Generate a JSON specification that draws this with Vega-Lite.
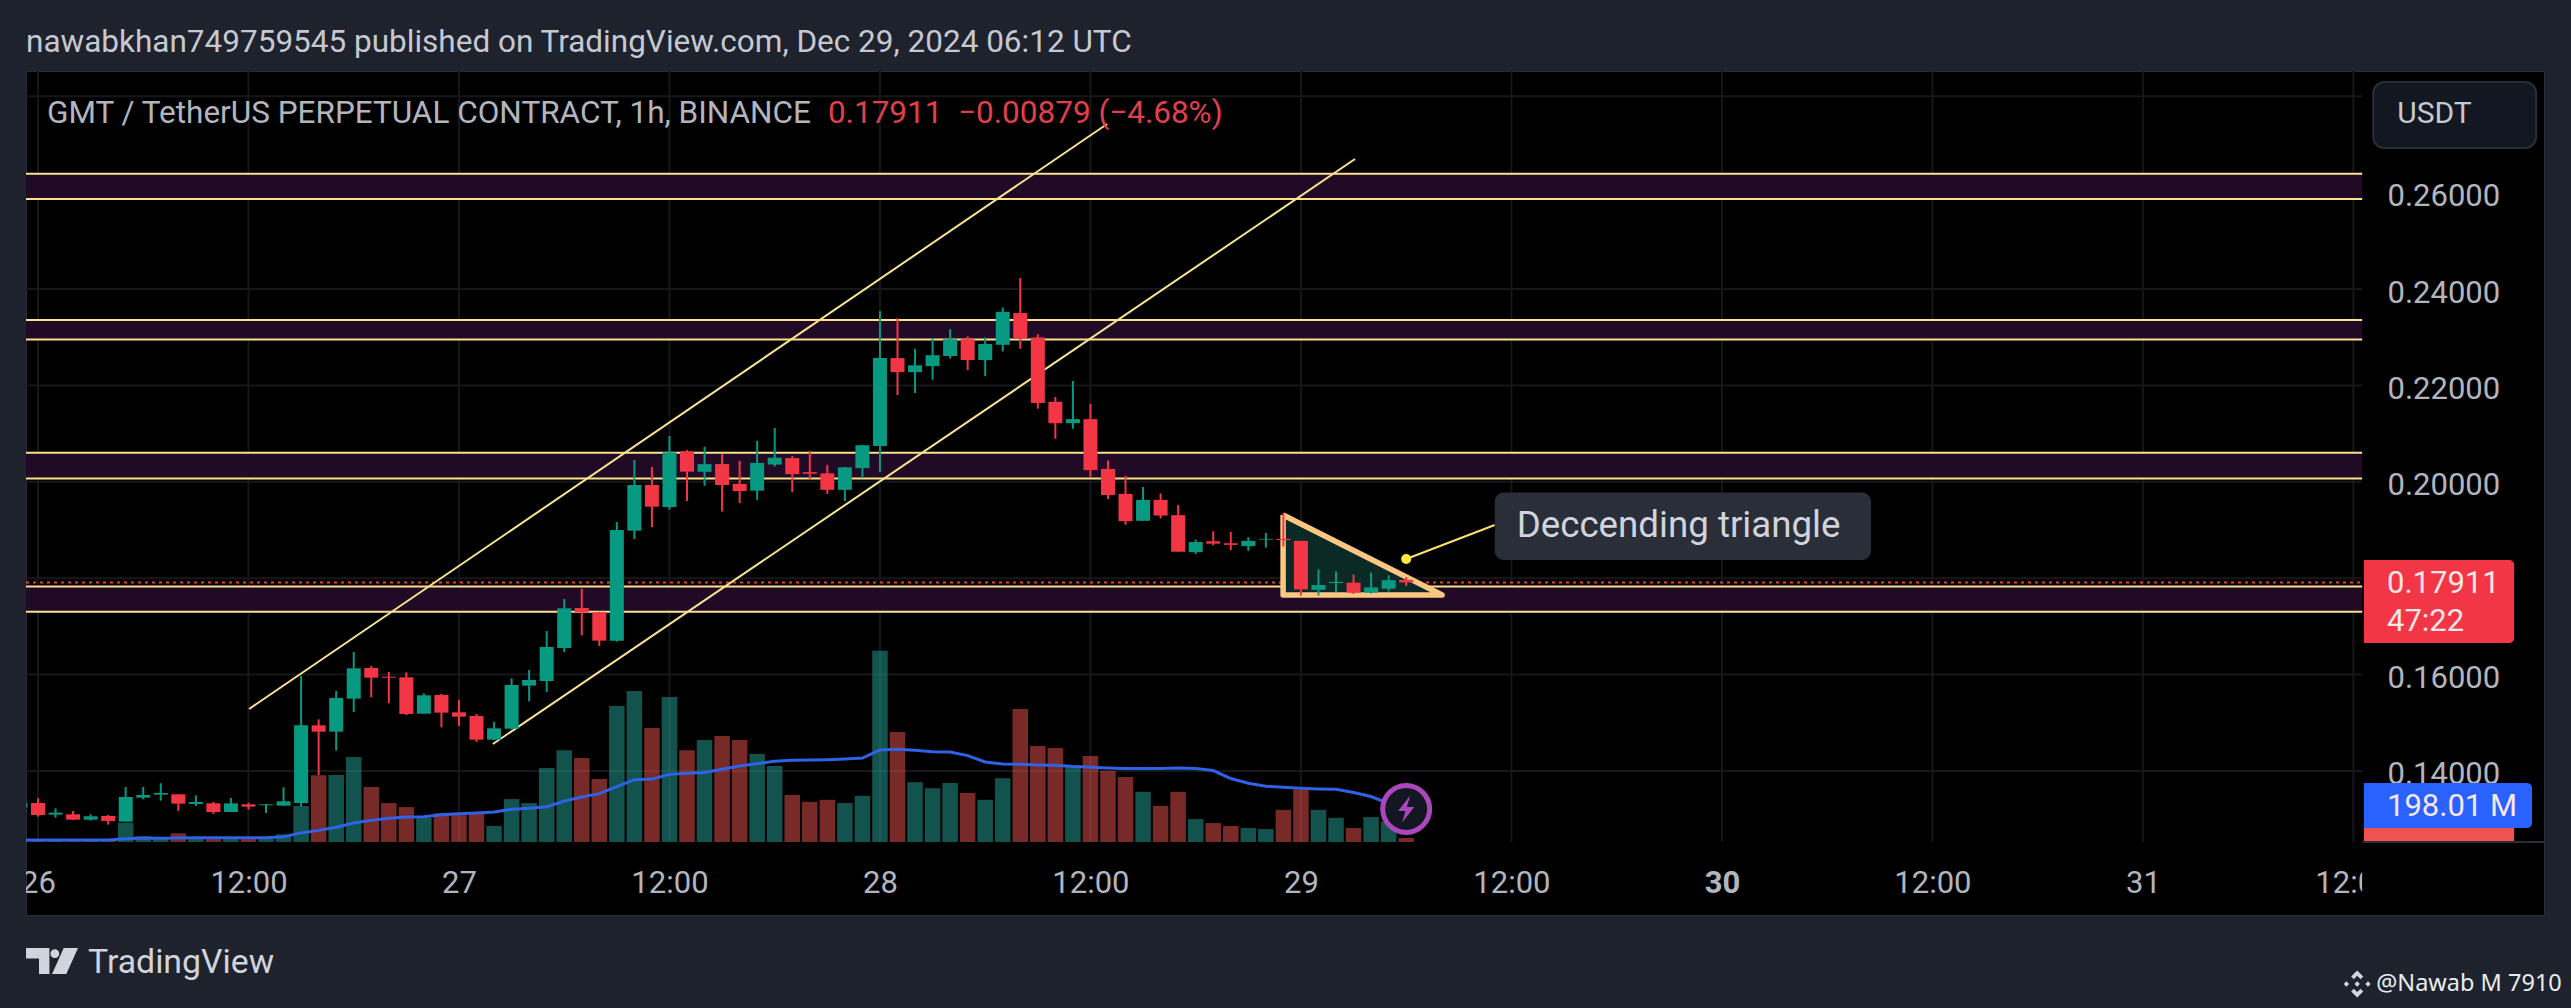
{
  "$schema": "https://vega.github.io/schema/vega-lite/v6.json",
  "description": "GMT / TetherUS perpetual contract, 1h candles with volume",
  "width": 2518,
  "height": 844,
  "autosize": {"type": "none"},
  "padding": {"left": 26, "top": 71, "right": 27, "bottom": 93},
  "background": "#1e222d",
  "view": {"fill": "#000000", "stroke": "#2a2e39"},
  "config": {"font": "Roboto"},
  "title": {
    "text": "nawabkhan749759545 published on TradingView.com, Dec 29, 2024 06:12 UTC",
    "anchor": "start",
    "frame": "group",
    "font": "Roboto",
    "fontSize": 31.5,
    "fontWeight": "normal",
    "color": "#c5c8d1",
    "offset": 12
  },
  "datasets": {
    "candles": [
      {"t":"2024-12-25T23:00Z","o":0.13246,"h":0.13343,"l":0.13219,"c":0.13329,"vol":15,"ma":11},
      {"t":"2024-12-26T00:00Z","o":0.13336,"h":0.13433,"l":0.13053,"c":0.13087,"vol":15,"ma":11},
      {"t":"2024-12-26T01:00Z","o":0.13094,"h":0.13225,"l":0.13032,"c":0.13136,"vol":13,"ma":11},
      {"t":"2024-12-26T02:00Z","o":0.13101,"h":0.1317,"l":0.12983,"c":0.1299,"vol":13,"ma":11},
      {"t":"2024-12-26T03:00Z","o":0.1299,"h":0.13101,"l":0.1297,"c":0.1306,"vol":13,"ma":11},
      {"t":"2024-12-26T04:00Z","o":0.13066,"h":0.13087,"l":0.12887,"c":0.12963,"vol":16,"ma":11},
      {"t":"2024-12-26T05:00Z","o":0.12949,"h":0.13668,"l":0.12949,"c":0.13461,"vol":106,"ma":18},
      {"t":"2024-12-26T06:00Z","o":0.13447,"h":0.13668,"l":0.13412,"c":0.13502,"vol":31,"ma":22},
      {"t":"2024-12-26T07:00Z","o":0.13509,"h":0.13744,"l":0.13385,"c":0.13544,"vol":18,"ma":20},
      {"t":"2024-12-26T08:00Z","o":0.13516,"h":0.13516,"l":0.1317,"c":0.13322,"vol":48,"ma":22},
      {"t":"2024-12-26T09:00Z","o":0.13315,"h":0.13495,"l":0.13274,"c":0.13357,"vol":20,"ma":24},
      {"t":"2024-12-26T10:00Z","o":0.13329,"h":0.13357,"l":0.13108,"c":0.13149,"vol":16,"ma":24},
      {"t":"2024-12-26T11:00Z","o":0.13149,"h":0.1344,"l":0.13149,"c":0.13329,"vol":20,"ma":24},
      {"t":"2024-12-26T12:00Z","o":0.13308,"h":0.13343,"l":0.13198,"c":0.1326,"vol":16,"ma":24},
      {"t":"2024-12-26T13:00Z","o":0.13288,"h":0.13315,"l":0.13129,"c":0.13308,"vol":20,"ma":24},
      {"t":"2024-12-26T14:00Z","o":0.13281,"h":0.13661,"l":0.13274,"c":0.13371,"vol":42,"ma":29},
      {"t":"2024-12-26T15:00Z","o":0.13336,"h":0.15971,"l":0.13267,"c":0.14947,"vol":198,"ma":50},
      {"t":"2024-12-26T16:00Z","o":0.14947,"h":0.15072,"l":0.13917,"c":0.14816,"vol":367,"ma":64},
      {"t":"2024-12-26T17:00Z","o":0.14816,"h":0.1566,"l":0.14422,"c":0.15515,"vol":368,"ma":81},
      {"t":"2024-12-26T18:00Z","o":0.15501,"h":0.16469,"l":0.15224,"c":0.1613,"vol":467,"ma":104},
      {"t":"2024-12-26T19:00Z","o":0.16137,"h":0.16178,"l":0.15528,"c":0.15936,"vol":302,"ma":119},
      {"t":"2024-12-26T20:00Z","o":0.15957,"h":0.16054,"l":0.15404,"c":0.15936,"vol":214,"ma":130},
      {"t":"2024-12-26T21:00Z","o":0.15943,"h":0.16047,"l":0.15162,"c":0.15183,"vol":192,"ma":137},
      {"t":"2024-12-26T22:00Z","o":0.15189,"h":0.15611,"l":0.15189,"c":0.1557,"vol":132,"ma":139},
      {"t":"2024-12-26T23:00Z","o":0.15577,"h":0.15598,"l":0.14906,"c":0.1521,"vol":158,"ma":150},
      {"t":"2024-12-27T00:00Z","o":0.15217,"h":0.15473,"l":0.14934,"c":0.15127,"vol":148,"ma":156},
      {"t":"2024-12-27T01:00Z","o":0.15141,"h":0.15183,"l":0.14602,"c":0.1465,"vol":160,"ma":160},
      {"t":"2024-12-27T02:00Z","o":0.1465,"h":0.15017,"l":0.14643,"c":0.14885,"vol":88,"ma":165},
      {"t":"2024-12-27T03:00Z","o":0.14878,"h":0.15923,"l":0.14864,"c":0.15784,"vol":236,"ma":180},
      {"t":"2024-12-27T04:00Z","o":0.1577,"h":0.16095,"l":0.15445,"c":0.15888,"vol":214,"ma":185},
      {"t":"2024-12-27T05:00Z","o":0.15867,"h":0.16905,"l":0.15639,"c":0.16573,"vol":407,"ma":194},
      {"t":"2024-12-27T06:00Z","o":0.16552,"h":0.17568,"l":0.16469,"c":0.17375,"vol":504,"ma":225},
      {"t":"2024-12-27T07:00Z","o":0.17382,"h":0.17783,"l":0.16815,"c":0.17292,"vol":462,"ma":247},
      {"t":"2024-12-27T08:00Z","o":0.17292,"h":0.17306,"l":0.16593,"c":0.16704,"vol":346,"ma":266},
      {"t":"2024-12-27T09:00Z","o":0.16704,"h":0.19166,"l":0.16683,"c":0.19,"vol":748,"ma":304},
      {"t":"2024-12-27T10:00Z","o":0.18986,"h":0.20452,"l":0.18813,"c":0.19934,"vol":830,"ma":343},
      {"t":"2024-12-27T11:00Z","o":0.19934,"h":0.20307,"l":0.19062,"c":0.19484,"vol":627,"ma":346},
      {"t":"2024-12-27T12:00Z","o":0.19477,"h":0.2095,"l":0.19422,"c":0.20611,"vol":797,"ma":372},
      {"t":"2024-12-27T13:00Z","o":0.20632,"h":0.2066,"l":0.19602,"c":0.2021,"vol":504,"ma":378},
      {"t":"2024-12-27T14:00Z","o":0.20208,"h":0.20725,"l":0.19917,"c":0.20367,"vol":561,"ma":382},
      {"t":"2024-12-27T15:00Z","o":0.20367,"h":0.20575,"l":0.19383,"c":0.19933,"vol":583,"ma":400},
      {"t":"2024-12-27T16:00Z","o":0.19958,"h":0.20433,"l":0.19558,"c":0.19808,"vol":561,"ma":418},
      {"t":"2024-12-27T17:00Z","o":0.19816,"h":0.2085,"l":0.19625,"c":0.20392,"vol":484,"ma":431},
      {"t":"2024-12-27T18:00Z","o":0.20358,"h":0.21117,"l":0.20317,"c":0.205,"vol":418,"ma":444},
      {"t":"2024-12-27T19:00Z","o":0.20492,"h":0.20533,"l":0.19783,"c":0.20158,"vol":259,"ma":449},
      {"t":"2024-12-27T20:00Z","o":0.202,"h":0.20642,"l":0.20058,"c":0.20166,"vol":221,"ma":451},
      {"t":"2024-12-27T21:00Z","o":0.20175,"h":0.2035,"l":0.1975,"c":0.19833,"vol":232,"ma":453},
      {"t":"2024-12-27T22:00Z","o":0.19833,"h":0.20308,"l":0.196,"c":0.203,"vol":214,"ma":457},
      {"t":"2024-12-27T23:00Z","o":0.20283,"h":0.20767,"l":0.20075,"c":0.20759,"vol":254,"ma":462},
      {"t":"2024-12-28T00:00Z","o":0.20742,"h":0.23542,"l":0.202,"c":0.22567,"vol":1052,"ma":506},
      {"t":"2024-12-28T01:00Z","o":0.22567,"h":0.23392,"l":0.218,"c":0.22275,"vol":605,"ma":510},
      {"t":"2024-12-28T02:00Z","o":0.22275,"h":0.22759,"l":0.21842,"c":0.22417,"vol":329,"ma":504},
      {"t":"2024-12-28T03:00Z","o":0.224,"h":0.22984,"l":0.22117,"c":0.22626,"vol":296,"ma":497},
      {"t":"2024-12-28T04:00Z","o":0.22609,"h":0.23167,"l":0.22559,"c":0.22959,"vol":325,"ma":495},
      {"t":"2024-12-28T05:00Z","o":0.22959,"h":0.23017,"l":0.22317,"c":0.22525,"vol":270,"ma":475},
      {"t":"2024-12-28T06:00Z","o":0.22525,"h":0.22992,"l":0.22192,"c":0.22859,"vol":232,"ma":440},
      {"t":"2024-12-28T07:00Z","o":0.22842,"h":0.23617,"l":0.22701,"c":0.23526,"vol":351,"ma":429},
      {"t":"2024-12-28T08:00Z","o":0.23501,"h":0.24226,"l":0.22759,"c":0.22976,"vol":731,"ma":427},
      {"t":"2024-12-28T09:00Z","o":0.22992,"h":0.23059,"l":0.21517,"c":0.21634,"vol":528,"ma":424},
      {"t":"2024-12-28T10:00Z","o":0.21659,"h":0.21759,"l":0.20892,"c":0.21217,"vol":517,"ma":422},
      {"t":"2024-12-28T11:00Z","o":0.21217,"h":0.22092,"l":0.211,"c":0.213,"vol":422,"ma":415},
      {"t":"2024-12-28T12:00Z","o":0.213,"h":0.21617,"l":0.20092,"c":0.20242,"vol":473,"ma":411},
      {"t":"2024-12-28T13:00Z","o":0.20267,"h":0.20442,"l":0.19641,"c":0.19725,"vol":391,"ma":407},
      {"t":"2024-12-28T14:00Z","o":0.1975,"h":0.20125,"l":0.19108,"c":0.19183,"vol":358,"ma":404},
      {"t":"2024-12-28T15:00Z","o":0.19191,"h":0.19892,"l":0.19191,"c":0.19625,"vol":276,"ma":404},
      {"t":"2024-12-28T16:00Z","o":0.19625,"h":0.19758,"l":0.19241,"c":0.193,"vol":199,"ma":404},
      {"t":"2024-12-28T17:00Z","o":0.19308,"h":0.19516,"l":0.18549,"c":0.18549,"vol":276,"ma":407},
      {"t":"2024-12-28T18:00Z","o":0.18541,"h":0.188,"l":0.185,"c":0.1875,"vol":126,"ma":404},
      {"t":"2024-12-28T19:00Z","o":0.18766,"h":0.18975,"l":0.18683,"c":0.18716,"vol":104,"ma":393},
      {"t":"2024-12-28T20:00Z","o":0.18725,"h":0.18958,"l":0.18583,"c":0.18691,"vol":88,"ma":349},
      {"t":"2024-12-28T21:00Z","o":0.18666,"h":0.1885,"l":0.18566,"c":0.18775,"vol":77,"ma":323},
      {"t":"2024-12-28T22:00Z","o":0.188,"h":0.18941,"l":0.18633,"c":0.18816,"vol":71,"ma":307},
      {"t":"2024-12-28T23:00Z","o":0.18816,"h":0.1935,"l":0.18658,"c":0.18791,"vol":177,"ma":301},
      {"t":"2024-12-29T00:00Z","o":0.18775,"h":0.18775,"l":0.17641,"c":0.17766,"vol":290,"ma":296},
      {"t":"2024-12-29T01:00Z","o":0.17758,"h":0.18183,"l":0.17641,"c":0.17858,"vol":177,"ma":292},
      {"t":"2024-12-29T02:00Z","o":0.17899,"h":0.18141,"l":0.17708,"c":0.17924,"vol":133,"ma":290},
      {"t":"2024-12-29T03:00Z","o":0.17908,"h":0.18074,"l":0.17674,"c":0.17699,"vol":77,"ma":272},
      {"t":"2024-12-29T04:00Z","o":0.17699,"h":0.18116,"l":0.17683,"c":0.17808,"vol":137,"ma":250},
      {"t":"2024-12-29T05:00Z","o":0.17783,"h":0.18058,"l":0.17724,"c":0.17958,"vol":113,"ma":212},
      {"t":"2024-12-29T06:00Z","o":0.17966,"h":0.18025,"l":0.17838,"c":0.17911,"vol":22,"ma":198.01}
    ],
    "hgrid": [
      {"t":"2024-12-25T23:19Z","t2":"2024-12-31T12:30Z","p":0.14},
      {"t":"2024-12-25T23:19Z","t2":"2024-12-31T12:30Z","p":0.16},
      {"t":"2024-12-25T23:19Z","t2":"2024-12-31T12:30Z","p":0.18},
      {"t":"2024-12-25T23:19Z","t2":"2024-12-31T12:30Z","p":0.2},
      {"t":"2024-12-25T23:19Z","t2":"2024-12-31T12:30Z","p":0.22},
      {"t":"2024-12-25T23:19Z","t2":"2024-12-31T12:30Z","p":0.24},
      {"t":"2024-12-25T23:19Z","t2":"2024-12-31T12:30Z","p":0.26},
      {"t":"2024-12-25T23:19Z","t2":"2024-12-31T12:30Z","p":0.28}
    ],
    "vgrid": [
      {"t":"2024-12-26T00:00Z","p":0.28523,"p2":0.12527},
      {"t":"2024-12-26T12:00Z","p":0.28523,"p2":0.12527},
      {"t":"2024-12-27T00:00Z","p":0.28523,"p2":0.12527},
      {"t":"2024-12-27T12:00Z","p":0.28523,"p2":0.12527},
      {"t":"2024-12-28T00:00Z","p":0.28523,"p2":0.12527},
      {"t":"2024-12-28T12:00Z","p":0.28523,"p2":0.12527},
      {"t":"2024-12-29T00:00Z","p":0.28523,"p2":0.12527},
      {"t":"2024-12-29T12:00Z","p":0.28523,"p2":0.12527},
      {"t":"2024-12-30T00:00Z","p":0.28523,"p2":0.12527},
      {"t":"2024-12-30T12:00Z","p":0.28523,"p2":0.12527},
      {"t":"2024-12-31T00:00Z","p":0.28523,"p2":0.12527},
      {"t":"2024-12-31T12:00Z","p":0.28523,"p2":0.12527}
    ],
    "zones": [
      {"t":"2024-12-25T23:19Z","t2":"2024-12-31T12:30Z","p":0.26392,"p2":0.25867},
      {"t":"2024-12-25T23:19Z","t2":"2024-12-31T12:30Z","p":0.23357,"p2":0.2295},
      {"t":"2024-12-25T23:19Z","t2":"2024-12-31T12:30Z","p":0.20602,"p2":0.20066},
      {"t":"2024-12-25T23:19Z","t2":"2024-12-31T12:30Z","p":0.17828,"p2":0.17303}
    ],
    "channels": [
      {"t":"2024-12-26T12:02Z","t2":"2024-12-28T12:57Z","p":0.15286,"p2":0.27423},
      {"t":"2024-12-27T01:56Z","t2":"2024-12-29T03:05Z","p":0.1456,"p2":0.26697}
    ]
  },
  "encoding": {
    "x": {
      "field": "t",
      "type": "temporal",
      "title": null,
      "scale": {"type": "utc", "domain": ["2024-12-25T23:19Z", "2024-12-31T22:52Z"], "nice": false, "padding": 0},
      "axis": {
        "orient": "bottom",
        "offset": -73,
        "grid": false,
        "ticks": false,
        "domain": false,
        "values": ["2024-12-26T00:00Z","2024-12-26T12:00Z","2024-12-27T00:00Z","2024-12-27T12:00Z","2024-12-28T00:00Z","2024-12-28T12:00Z","2024-12-29T00:00Z","2024-12-29T12:00Z","2024-12-30T00:00Z","2024-12-30T12:00Z","2024-12-31T00:00Z","2024-12-31T12:00Z"],
        "labelExpr": "utchours(datum.value) == 12 ? '12:00' : utcFormat(datum.value, '%-d')",
        "labelFontWeight": {"condition": {"test": "utcdate(datum.value) == 30 && utchours(datum.value) == 0", "value": "bold"}, "value": "normal"},
        "labelFont": "Roboto",
        "labelFontSize": 31,
        "labelColor": "#b2b5be",
        "labelPadding": 41,
        "labelBaseline": "middle",
        "labelOverlap": false,
        "labelFlush": false,
        "labelBound": false
      }
    }
  },
  "resolve": {"scale": {"y": "independent"}, "axis": {"y": "independent"}},
  "layer": [
    {
      "encoding": {
        "y": {"field": "p", "type": "quantitative", "axis": null, "scale": {"domain": [0.11012, 0.28523], "nice": false, "zero": false}}
      },
      "layer": [
        {
          "data": {"name": "hgrid"},
          "mark": {"type": "rule", "stroke": "#15171b", "strokeWidth": 2},
          "encoding": {"x2": {"field": "t2"}}
        },
        {
          "data": {"name": "vgrid"},
          "mark": {"type": "rule", "stroke": "#15171b", "strokeWidth": 2},
          "encoding": {"y2": {"field": "p2"}}
        }
      ]
    },
    {
      "data": {"name": "candles"},
      "encoding": {
        "y": {"field": "vol", "type": "quantitative", "axis": null, "scale": {"domain": [-401.5, 4240.5], "nice": false, "zero": false}}
      },
      "layer": [
        {
          "mark": {"type": "bar", "size": 15.5, "clip": true, "opacity": 0.5},
          "encoding": {
            "y2": {"datum": 0},
            "fill": {"condition": {"test": "datum.c < datum.o", "value": "#ef5350"}, "value": "#26a69a"}
          }
        },
        {
          "mark": {"type": "line", "stroke": "#2f62e6", "strokeWidth": 3, "clip": true},
          "encoding": {"y": {"field": "ma", "type": "quantitative", "axis": null}}
        }
      ]
    },
    {
      "encoding": {
        "y": {
          "field": "p",
          "type": "quantitative",
          "title": null,
          "scale": {"domain": [0.11012, 0.28523], "nice": false, "zero": false},
          "axis": {
            "orient": "right",
            "offset": -182,
            "grid": false,
            "ticks": false,
            "domain": false,
            "values": [0.14, 0.16, 0.2, 0.22, 0.24, 0.26],
            "format": ".5f",
            "labelFont": "Roboto",
            "labelFontSize": 31,
            "labelColor": "#b2b5be",
            "labelPadding": 25,
            "labelOffset": 4,
            "labelOverlap": false,
            "labelBound": false,
            "labelFlush": false
          }
        }
      },
      "layer": [
        {
          "data": {"name": "zones"},
          "mark": {"type": "rect", "fill": "#210a25"},
          "encoding": {"x2": {"field": "t2"}, "y2": {"field": "p2"}}
        },
        {
          "data": {"name": "zones"},
          "mark": {"type": "rule", "stroke": "#fbe08e", "strokeWidth": 2},
          "encoding": {"x2": {"field": "t2"}}
        },
        {
          "data": {"name": "zones"},
          "mark": {"type": "rule", "stroke": "#fbe08e", "strokeWidth": 2},
          "encoding": {"x2": {"field": "t2"}, "y": {"field": "p2", "type": "quantitative", "title": null}}
        },
        {
          "data": {"values": [{"t":"2024-12-25T23:19Z","t2":"2024-12-31T12:30Z","p":0.17911}]},
          "mark": {"type": "rule", "stroke": "#f23645", "strokeWidth": 2, "strokeDash": [3, 4]},
          "encoding": {"x2": {"field": "t2"}}
        },
        {
          "data": {"name": "channels"},
          "mark": {"type": "rule", "stroke": "#f7e392", "strokeWidth": 2},
          "encoding": {"x2": {"field": "t2"}, "y2": {"field": "p2"}}
        },
        {
          "data": {"values": [
            {"t":"2024-12-28T22:59Z","p":0.19311,"p2":0.17651},
            {"t":"2024-12-29T08:03Z","p":0.17651,"p2":0.17651}
          ]},
          "mark": {"type": "area", "fill": "#0b2a25"},
          "encoding": {"y2": {"field": "p2"}}
        },
        {
          "data": {"values": [
            {"t":"2024-12-28T22:59Z","p":0.19311,"i":0},
            {"t":"2024-12-28T22:59Z","p":0.17651,"i":1},
            {"t":"2024-12-29T08:03Z","p":0.17651,"i":2},
            {"t":"2024-12-28T22:59Z","p":0.19311,"i":3}
          ]},
          "mark": {"type": "line", "stroke": "#fcc782", "strokeWidth": 5.5, "strokeJoin": "round"},
          "encoding": {"order": {"field": "i", "type": "ordinal"}}
        },
        {
          "data": {"name": "candles"},
          "mark": {"type": "rule", "strokeWidth": 2, "clip": true},
          "encoding": {
            "y": {"field": "h", "type": "quantitative", "title": null},
            "y2": {"field": "l"},
            "stroke": {"condition": {"test": "datum.c < datum.o", "value": "#f23645"}, "value": "#089981"}
          }
        },
        {
          "data": {"name": "candles"},
          "mark": {"type": "bar", "size": 14, "clip": true},
          "encoding": {
            "y": {"field": "o", "type": "quantitative", "title": null},
            "y2": {"field": "c"},
            "fill": {"condition": {"test": "datum.c < datum.o", "value": "#f23645"}, "value": "#089981"}
          }
        },
        {
          "data": {"values": [{"t":"2024-12-29T06:00Z","t2":"2024-12-29T11:03Z","p":0.18398,"p2":0.19104}]},
          "mark": {"type": "rule", "stroke": "#f7e26b", "strokeWidth": 2},
          "encoding": {"x2": {"field": "t2"}, "y2": {"field": "p2"}}
        },
        {
          "data": {"values": [{"t":"2024-12-29T06:00Z","p":0.18398}]},
          "mark": {"type": "point", "shape": "circle", "filled": true, "fill": "#ffeb3b", "opacity": 1, "size": 100},
          "encoding": {}
        },
        {
          "data": {"values": [{"t":"2024-12-29T11:03Z","t2":"2024-12-30T08:30Z","p":0.19779,"p2":0.18375}]},
          "mark": {"type": "rect", "fill": "#2a2e39", "cornerRadius": 9},
          "encoding": {"x2": {"field": "t2"}, "y2": {"field": "p2"}}
        },
        {
          "data": {"values": [{"t":"2024-12-29T12:18Z","p":0.19074,"label":"Deccending triangle"}]},
          "mark": {"type": "text", "align": "left", "baseline": "middle", "font": "Roboto", "fontSize": 36.7, "fill": "#d1d4dc"},
          "encoding": {"text": {"field": "label"}}
        },
        {
          "data": {"values": [{"t":"2024-12-29T06:00Z","p":0.13212}]},
          "mark": {"type": "point", "shape": "circle", "filled": true, "fill": "#131722", "stroke": "#ab47bc", "strokeWidth": 5, "opacity": 1, "size": 2200},
          "encoding": {}
        },
        {
          "data": {"values": [{"t":"2024-12-29T06:00Z","p":0.13212}]},
          "mark": {"type": "point", "shape": "M0.3 -1 L-0.6 0.15 L-0.05 0.15 L-0.3 1 L0.6 -0.15 L0.05 -0.15 Z", "filled": true, "fill": "#ab47bc", "opacity": 1, "size": 729},
          "encoding": {}
        },
        {
          "data": {"values": [{"t":"2024-12-31T12:36Z","t2":"2024-12-31T21:10Z","p":0.18378,"p2":0.16656}]},
          "mark": {"type": "rect", "fill": "#f23645", "cornerRadiusTopRight": 5, "cornerRadiusBottomRight": 5},
          "encoding": {"x2": {"field": "t2"}, "y2": {"field": "p2"}}
        },
        {
          "data": {"values": [{"t":"2024-12-31T12:36Z","t2":"2024-12-31T21:10Z","p":0.12817,"p2":0.12527}]},
          "mark": {"type": "rect", "fill": "#ef5350"},
          "encoding": {"x2": {"field": "t2"}, "y2": {"field": "p2"}}
        },
        {
          "data": {"values": [{"t":"2024-12-31T12:36Z","t2":"2024-12-31T22:11Z","p":0.13751,"p2":0.12817}]},
          "mark": {"type": "rect", "fill": "#2962ff", "cornerRadiusTopRight": 5, "cornerRadiusBottomRight": 5},
          "encoding": {"x2": {"field": "t2"}, "y2": {"field": "p2"}}
        },
        {
          "data": {"values": [{"t":"2024-12-31T12:30Z","t2":"2024-12-31T22:52Z","p":0.12506,"p2":0.11012}]},
          "mark": {"type": "rect", "fill": "#000000"},
          "encoding": {"x2": {"field": "t2"}, "y2": {"field": "p2"}}
        },
        {
          "data": {"values": [{"t":"2024-12-25T21:50Z","t2":"2024-12-25T23:19Z","p":0.12506,"p2":0.11012}]},
          "mark": {"type": "rect", "fill": "#1e222d"},
          "encoding": {"x2": {"field": "t2"}, "y2": {"field": "p2"}}
        },
        {
          "data": {"values": [{"t":"2024-12-31T12:30Z","t2":"2024-12-31T22:52Z","p":0.12527}]},
          "mark": {"type": "rule", "stroke": "#2a2e39", "strokeWidth": 2},
          "encoding": {"x2": {"field": "t2"}}
        },
        {
          "data": {"values": [
            {"t":"2024-12-31T13:55Z","p":0.1788,"label":"0.17911"},
            {"t":"2024-12-31T13:55Z","p":0.17098,"label":"47:22"},
            {"t":"2024-12-31T13:55Z","p":0.13259,"label":"198.01 M"}
          ]},
          "mark": {"type": "text", "align": "left", "baseline": "middle", "font": "Roboto", "fontSize": 31, "fill": "#f5e6e8"},
          "encoding": {"text": {"field": "label"}}
        },
        {
          "data": {"values": [{"t":"2024-12-31T13:08Z","t2":"2024-12-31T22:25Z","p":0.28295,"p2":0.26925}]},
          "mark": {"type": "rect", "fill": "#131722", "stroke": "#2a2e39", "strokeWidth": 2, "cornerRadius": 11},
          "encoding": {"x2": {"field": "t2"}, "y2": {"field": "p2"}}
        },
        {
          "data": {"values": [{"t":"2024-12-31T14:30Z","p":0.27631,"label":"USDT"}]},
          "mark": {"type": "text", "align": "left", "baseline": "middle", "font": "Roboto", "fontSize": 30, "fill": "#c5c8d1"},
          "encoding": {"text": {"field": "label"}}
        },
        {
          "data": {"values": [{"t":"2024-12-26T00:31Z","p":0.2763,"label":"GMT / TetherUS PERPETUAL CONTRACT, 1h, BINANCE"}]},
          "mark": {"type": "text", "align": "left", "baseline": "middle", "font": "Roboto", "fontSize": 31.5, "fill": "#b2b5be"},
          "encoding": {"text": {"field": "label"}}
        },
        {
          "data": {"values": [{"t":"2024-12-27T21:02Z","p":0.2763,"label":"0.17911\u00a0\u00a0\u22120.00879 (\u22124.68%)"}]},
          "mark": {"type": "text", "align": "left", "baseline": "middle", "font": "Roboto", "fontSize": 31.5, "fill": "#e0404d"},
          "encoding": {"text": {"field": "label"}}
        },
        {
          "data": {"values": [{"t":"2024-12-26T00:48Z","p":0.10058}]},
          "mark": {"type": "point", "shape": "M-1 -0.5 L-0.1 -0.5 L-0.1 0.5 L-0.5 0.5 L-0.5 -0.1 L-1 -0.1 Z M0.28 -0.28 A0.17 0.17 0 1 1 -0.06 -0.28 A0.17 0.17 0 1 1 0.28 -0.28 Z M0.45 -0.5 L1 -0.5 L0.55 0.5 L0 0.5 Z", "filled": true, "fill": "#d1d4dc", "opacity": 1, "size": 2704},
          "encoding": {}
        },
        {
          "data": {"values": [{"t":"2024-12-26T02:51Z","p":0.10017,"label":"TradingView"}]},
          "mark": {"type": "text", "align": "left", "baseline": "middle", "font": "Roboto", "fontSize": 33.8, "fill": "#d1d4dc"},
          "encoding": {"text": {"field": "label"}}
        },
        {
          "data": {"values": [{"t":"2024-12-31T12:13Z","p":0.09581}]},
          "mark": {"type": "point", "shape": "M0 -1 L0.45 -0.55 L0.25 -0.35 L0 -0.6 L-0.25 -0.35 L-0.45 -0.55 Z M0 1 L0.45 0.55 L0.25 0.35 L0 0.6 L-0.25 0.35 L-0.45 0.55 Z M-1 0 L-0.8 -0.2 L-0.6 0 L-0.8 0.2 Z M1 0 L0.8 -0.2 L0.6 0 L0.8 0.2 Z M0 -0.2 L0.2 0 L0 0.2 L-0.2 0 Z", "filled": true, "fill": "#d1d4dc", "opacity": 1, "size": 729},
          "encoding": {}
        },
        {
          "data": {"values": [{"t":"2024-12-31T13:18Z","p":0.09581,"label":"@Nawab M 7910"}]},
          "mark": {"type": "text", "align": "left", "baseline": "middle", "font": "Noto Sans", "fontSize": 23.5, "fill": "#eaecef"},
          "encoding": {"text": {"field": "label"}}
        }
      ]
    }
  ]
}
